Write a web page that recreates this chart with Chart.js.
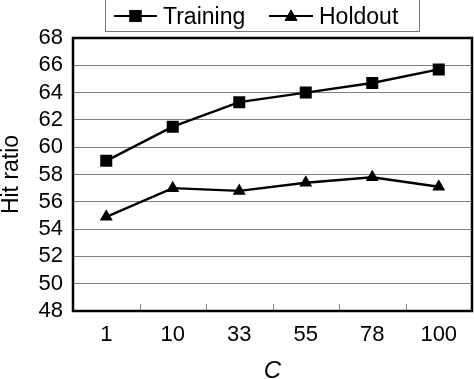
<!DOCTYPE html>
<html>
<head>
<meta charset="utf-8">
<script src="https://cdn.jsdelivr.net/npm/chart.js@4/dist/chart.umd.min.js"></script>
<style>
html,body{margin:0;padding:0;background:#fff;}
#wrap{width:474px;height:379px;position:relative;}
</style>
</head>
<body>
<div id="wrap"><canvas id="c" width="474" height="379"></canvas></div>
<script>
const categories = ['1', '10', '33', '55', '78', '100'];
const training = [59.0, 61.5, 63.3, 64.0, 64.7, 65.7];
const holdout = [54.9, 57.0, 56.8, 57.4, 57.8, 57.1];
const seriesNames = ['Training', 'Holdout'];
const yMin = 48, yMax = 68, yStep = 2;
const FONT = '"Liberation Sans", Arial, sans-serif';

const framePlugin = {
  id: 'frame',
  afterDraw(chart) {
    const ctx = chart.ctx;
    const a = chart.chartArea;
    const xs = chart.scales.x;
    ctx.save();
    ctx.strokeStyle = '#888';
    ctx.lineWidth = 1;
    for (let i = 1; i < categories.length; i++) {
      const x = Math.round((xs.getPixelForTick(i - 1) + xs.getPixelForTick(i)) / 2) + 0.5;
      ctx.beginPath();
      ctx.moveTo(x, a.bottom - 7);
      ctx.lineTo(x, a.bottom);
      ctx.stroke();
    }
    ctx.strokeStyle = '#000';
    ctx.lineWidth = 2.5;
    ctx.strokeRect(a.left, a.top, a.right - a.left, a.bottom - a.top);
    ctx.strokeStyle = '#777';
    ctx.lineWidth = 1;
    ctx.strokeRect(105.5, -1.5, 314, 33);
    const items = [
      {name: seriesNames[0], x0: 114, x1: 157, style: 'rect', r: 8.5, tx: 163},
      {name: seriesNames[1], x0: 269, x1: 313, style: 'triangle', r: 7.5, tx: 319}
    ];
    const ly = 16;
    items.forEach(it => {
      ctx.strokeStyle = '#000';
      ctx.lineWidth = 2.2;
      ctx.beginPath();
      ctx.moveTo(it.x0, ly);
      ctx.lineTo(it.x1, ly);
      ctx.stroke();
      ctx.fillStyle = '#000';
      Chart.helpers.drawPoint(ctx, {pointStyle: it.style, radius: it.r, rotation: 0, borderWidth: 0}, (it.x0 + it.x1) / 2, it.style === 'triangle' ? ly + 1 : ly);
      ctx.fill();
      ctx.font = '23px ' + FONT;
      ctx.textBaseline = 'alphabetic';
      ctx.textAlign = 'left';
      ctx.fillText(it.name, it.tx, 24);
    });
    ctx.restore();
  }
};

new Chart(document.getElementById('c'), {
  type: 'line',
  data: {
    labels: categories,
    datasets: [
      {label: seriesNames[0], data: training, borderColor: '#000', backgroundColor: '#000',
       borderWidth: 2.4, pointStyle: 'rect', pointRadius: 8.5, pointBorderWidth: 0, tension: 0},
      {label: seriesNames[1], data: holdout, borderColor: '#000', backgroundColor: '#000',
       borderWidth: 2.4, pointStyle: 'triangle', pointRadius: 7.5, pointBorderWidth: 0, tension: 0}
    ]
  },
  options: {
    responsive: false,
    animation: false,
    devicePixelRatio: 1,
    layout: {autoPadding: false, padding: {top: 38, right: 2, left: 0, bottom: 0}},
    plugins: {legend: {display: false}, tooltip: {enabled: false}},
    scales: {
      x: {
        offset: true,
        grid: {display: false, drawTicks: false},
        border: {display: false},
        ticks: {color: '#000', font: {family: FONT, size: 22}, padding: 11, maxRotation: 0, autoSkip: false},
        title: {display: true, text: 'C', color: '#000',
                font: {family: FONT, size: 24, style: 'italic', lineHeight: 1}, padding: {top: 0, bottom: -4}},
        afterFit(s) { s.height = 68; s.paddingLeft = 0; s.paddingRight = 0; }
      },
      y: {
        min: yMin, max: yMax,
        grid: {color: '#808080', lineWidth: 1, drawTicks: false},
        border: {display: false},
        ticks: {stepSize: yStep, color: '#000', font: {family: FONT, size: 22}, padding: 10, autoSkip: false},
        title: {display: true, text: 'Hit ratio', color: '#000',
                font: {family: FONT, size: 23, lineHeight: 1}, padding: {top: 0, bottom: 0}},
        afterFit(s) { s.width = 73; s.paddingTop = 0; s.paddingBottom = 0; }
      }
    }
  },
  plugins: [framePlugin]
});
</script>
</body>
</html>
